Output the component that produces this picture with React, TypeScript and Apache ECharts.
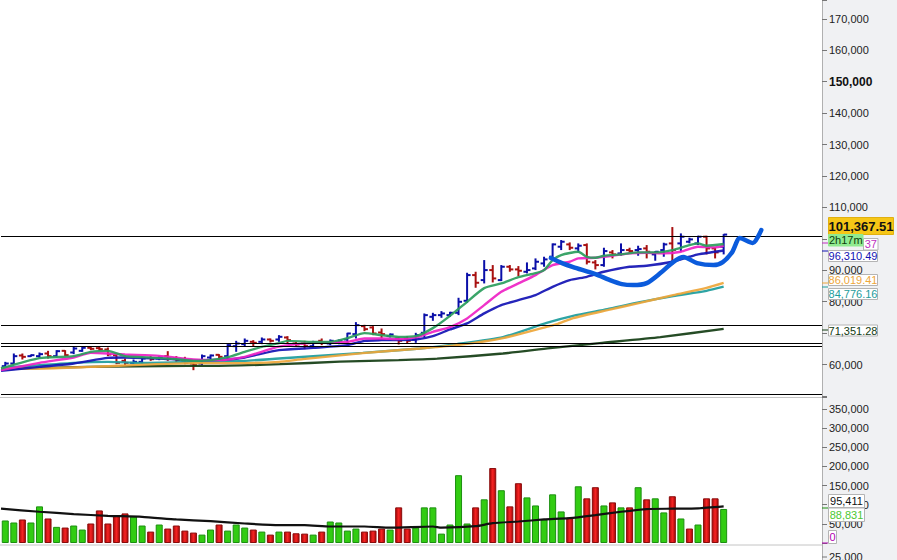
import { useEffect, useRef } from 'react';
import * as echarts from 'echarts';

const FONT = '"Liberation Sans", Arial, sans-serif';

// open, high, low, close read bar by bar
const ohlc = [
  [59490, 60870, 59278, 60339], [60339, 63524, 60127, 62675], [62887, 63524, 61613, 62462], [62675, 63205, 62462, 62993],
  [62675, 63842, 62144, 63312], [63524, 64373, 61932, 62675], [62675, 64586, 62250, 64267], [64373, 64586, 62675, 62993],
  [63842, 65860, 63312, 65116], [64373, 65860, 64055, 65329], [65329, 65647, 64586, 65010], [65223, 65647, 64373, 64904],
  [64798, 65434, 62675, 63205], [62993, 63524, 60127, 60551], [61188, 61932, 59808, 60551], [60551, 61613, 60127, 60870],
  [60870, 62462, 60339, 61932], [62144, 62675, 61188, 61719], [61932, 62781, 61401, 62250], [62675, 64267, 61188, 61932],
  [62038, 62675, 60870, 61401], [61188, 62462, 60127, 60551], [60339, 60870, 58216, 59808], [60339, 63205, 59808, 62675],
  [62250, 63205, 61613, 62887], [63099, 63312, 61613, 62462], [62675, 66496, 61613, 66178], [65860, 67558, 64055, 66709],
  [66496, 68301, 65647, 67558], [67240, 67770, 65860, 66921], [67240, 68620, 66496, 67983], [67983, 68301, 67027, 67558],
  [67983, 69363, 67240, 68832], [68619, 69044, 66708, 67770], [66708, 67239, 65646, 66390], [66708, 67558, 64904, 65859],
  [65859, 67558, 65434, 67027], [67558, 68301, 66177, 66921], [66708, 67982, 66177, 67558], [66921, 67982, 66496, 67558],
  [67982, 70106, 66921, 69893], [69681, 73502, 68301, 72547], [72229, 72653, 70636, 71273], [71804, 72229, 69363, 69893],
  [70212, 71485, 68301, 69681], [69044, 69893, 68619, 69575], [68301, 68832, 66390, 67558], [68301, 69044, 66708, 67558],
  [67982, 70106, 66921, 69363], [70106, 76263, 68619, 75732], [75201, 76475, 73927, 75732], [75732, 77006, 74883, 76263],
  [75732, 76794, 75201, 76475], [76475, 81252, 75732, 79978], [80297, 89214, 79660, 88471], [88471, 89532, 84437, 86029],
  [86879, 93248, 85817, 90063], [90063, 91656, 86135, 87409], [86879, 91656, 86560, 91125], [91125, 91656, 89532, 90276],
  [90276, 91337, 88152, 89851], [89532, 92505, 89002, 90063], [90594, 93779, 90063, 92717], [92187, 94310, 91125, 93460],
  [94309, 98555, 93778, 98237], [97494, 99617, 96432, 99086], [98237, 98874, 96432, 97175], [96963, 98555, 95689, 97812],
  [98025, 98555, 91867, 92717], [92504, 93247, 90275, 91655], [91655, 97175, 91124, 96114], [95689, 96432, 93778, 95052],
  [95371, 98555, 94628, 96432], [96432, 97175, 95371, 96114], [96432, 97812, 94628, 96751], [96963, 98025, 93778, 95901],
  [95052, 96114, 93035, 95901], [96432, 98768, 94309, 98237], [98555, 103757, 91867, 96432], [98555, 101740, 95901, 100679],
  [99086, 100360, 98555, 99829], [98555, 100997, 98025, 100679], [100679, 100997, 95052, 96963], [96963, 97281, 93778, 95689],
  [97494, 101500, 95052, 101367],
];

const volume = [
  58760, 53500, 61400, 53500, 95600, 64000, 42100, 40300, 45600, 35100, 50900, 85000, 50900, 71000, 77200, 69300, 45600,
  29800, 48200, 37700, 45600, 32400, 27200, 21900, 35100, 48200, 32400, 48200, 40300, 35100, 29800, 21900, 29800, 29800,
  25400, 24500, 21900, 29800, 56100, 53500, 32400, 37700, 29800, 32400, 37700, 35100, 93000, 37700, 40300, 93000, 93000,
  24500, 48200, 177000, 50900, 93000, 114000, 195600, 137700, 95600, 156000, 119000, 98000, 61400, 127000, 82400, 66600,
  148000, 116600, 145600, 98000, 106000, 93000, 93000, 145600, 114000, 116600, 79800, 122000, 64000, 37700, 48200,
  116600, 116600, 88831,
];
// U green, R red, ten bars per chunk
const volumeSide = [
  'UURUURURUU', 'RRRRRUURUR', 'RRRUURUUUR', 'URURRRURUU', 'UURRRURRUU',
  'UUUUURURUR', 'RUUUUURURR', 'URURURUURU', 'RURRU',
].join('');

const volAvgIdx = [-0.5, 4, 8, 12, 16, 20, 24, 28, 32, 35, 38, 42, 45, 50, 51, 55, 57, 60, 63, 66, 69, 72, 75, 78, 81, 84];
const volAvg = [89500, 81600, 75400, 71000, 68400, 61400, 57000, 50900, 46500, 46500, 43000, 43000, 40300, 43000, 40300, 43800, 51700, 56100, 61400, 64900, 72800, 81600, 88600, 89500, 90300, 95411];

const greenIdx = [-0.5, 4, 8, 10, 12, 14, 16, 18, 20, 22, 24, 26, 28, 30, 32, 33, 36, 38, 40, 42, 44, 46, 48, 50, 52, 54, 56, 58, 60, 62, 63, 64, 65, 67, 68, 69, 70, 72, 74, 76, 78, 80, 81, 82, 84];
const greenLine = [58757, 62038, 62674, 64044, 64362, 62674, 62356, 62038, 61719, 61178, 61401, 62356, 64044, 65636, 66815, 67547, 67229, 67229, 68407, 69999, 69362, 68821, 69044, 71592, 75509, 79967, 84330, 85827, 87834, 89107, 90063, 93248, 94840, 95891, 94298, 93980, 94617, 95063, 95700, 95700, 96432, 98025, 98566, 97802, 98343];

const pinkIdx = [-0.5, 4, 8, 10, 12, 14, 18, 22, 25, 28, 32, 36, 40, 42, 44, 46, 48, 50, 52, 54, 56, 58, 60, 62, 64, 66, 67, 69, 71, 73, 75, 77, 79, 81, 83, 84];
const pinkLine = [58216, 60541, 62260, 63725, 63534, 63216, 62770, 61624, 61401, 62452, 65700, 66910, 67229, 68311, 68311, 68088, 68630, 70413, 71910, 74681, 78916, 83152, 85827, 88472, 91655, 92706, 93788, 93980, 94617, 95381, 95572, 95381, 95891, 97483, 97292, 97802];

const blueIdx = [-0.5, 4, 8, 12, 14, 18, 22, 26, 28, 32, 36, 40, 42, 44, 48, 50, 52, 54, 56, 58, 60, 62, 64, 66, 68, 70, 73, 75, 78, 80, 81, 84];
const blueLine = [57993, 59267, 60350, 62133, 62260, 61942, 61401, 61624, 62260, 64585, 65318, 66178, 67547, 67770, 67993, 69044, 71178, 73088, 76273, 78916, 80509, 82101, 84745, 86878, 87929, 89522, 91114, 91432, 92706, 94298, 95063, 96310];

const tealIdx = [-0.5, 4, 8, 12, 16, 22, 28, 32, 41.8, 48.5, 52.8, 58.2, 63.3, 66.4, 70.4, 74.2, 78.1, 82, 84];
const tealLine = [58948, 59808, 60541, 60859, 60541, 60859, 61178, 61942, 63725, 65127, 66496, 68725, 73280, 75509, 77643, 79872, 81783, 83470, 84776];

const orangeIdx = [-0.5, 4, 10, 22, 28, 32, 34.8, 41.8, 48.5, 52.8, 58.2, 63.3, 64.5, 66.4, 70.4, 74.2, 78.1, 82, 84];
const orangeLine = [58757, 58757, 59267, 60445, 60445, 60859, 61719, 63630, 65127, 66178, 68407, 72006, 72866, 74776, 77324, 79649, 82101, 84426, 86019];

const darkIdx = [-0.5, 9.6, 21.3, 24, 32.1, 39.1, 46, 50.5, 58.2, 63.7, 69.5, 76.6, 84];
const darkLine = [58534, 59267, 59585, 59585, 60127, 60923, 61401, 61878, 63534, 65222, 66815, 68725, 71351];

// the hand drawn projection on top of the bars
const projIdx = [63.8, 65.1, 66.4, 69, 70.7, 72.1, 73.4, 75, 76.6, 78.1, 79.3, 80.9, 82.8, 83.9, 85, 85.9, 87.4, 88.4];
const projLine = [93885, 92293, 91020, 88790, 86880, 85605, 85285, 85925, 89110, 92610, 94200, 92290, 91655, 92610, 95795, 100255, 98665, 102800];

const levels = [100890, 72548, 66814, 65859, 50573];

const BAR_SLOTS = 96;
const categories = Array.from({ length: BAR_SLOTS }, (_, i) => String(i));

const pairs = (xs: number[], ys: number[]) => xs.map((x, i) => [x, ys[i]]);
const fmt = (v: number) => v.toLocaleString('en-US');

function ma(name: string, xs: number[], ys: number[], color: string, width = 2.4, extra: any = {}) {
  return {
    name,
    type: 'line',
    xAxisIndex: 1,
    yAxisIndex: 0,
    data: pairs(xs, ys),
    showSymbol: false,
    symbol: 'none',
    smooth: 0.2,
    silent: true,
    z: 4,
    lineStyle: { color, width, opacity: 0.92 },
    ...extra,
  };
}

function tag(x: number, y: number, w: number, h: number, text: string, color: string, fill = '#fff', font = `11px ${FONT}`, stroke = '#b4b4b4') {
  return {
    type: 'group',
    z: 100,
    children: [
      { type: 'rect', z: 100, shape: { x, y, width: w, height: h }, style: { fill, stroke, lineWidth: 1 } },
      {
        type: 'text',
        z: 101,
        style: { x: x + w / 2, y: y + h / 2, text, fill: color, font, textAlign: 'center', textVerticalAlign: 'middle' },
      },
    ],
  };
}

function tick(y: number, color: string) {
  return { type: 'line', z: 99, shape: { x1: 822, y1: y, x2: 828, y2: y }, style: { stroke: color, lineWidth: 1 } };
}

function App() {
  const ref = useRef<HTMLDivElement>(null);

  useEffect(() => {
    document.body.style.margin = '0';
    if (!ref.current) return;
    const chart = echarts.init(ref.current, undefined, { renderer: 'svg' });

    const redFill = new echarts.graphic.LinearGradient(0, 0, 1, 0, [
      { offset: 0, color: '#a80808' },
      { offset: 0.5, color: '#f72424' },
      { offset: 1, color: '#a80808' },
    ]);

    const option: any = {
      animation: false,
      grid: [
        { left: 1, top: 0, width: 821, height: 396 },
        { left: 1, top: 397, width: 821, height: 146 },
      ],
      xAxis: [
        { type: 'category', gridIndex: 0, data: categories, show: false },
        { type: 'value', gridIndex: 0, min: -0.5, max: BAR_SLOTS - 0.5, show: false },
        { type: 'category', gridIndex: 1, data: categories, show: false },
        { type: 'value', gridIndex: 1, min: -0.5, max: BAR_SLOTS - 0.5, show: false },
      ],
      yAxis: [
        {
          type: 'value',
          gridIndex: 0,
          position: 'right',
          min: 50000,
          max: 176000,
          interval: 10000,
          splitLine: { show: false },
          axisLine: { show: false, onZero: false },
          axisTick: { length: 5, lineStyle: { color: '#777' } },
          axisLabel: {
            margin: 7,
            color: '#222',
            fontSize: 11,
            fontFamily: FONT,
            formatter: (v: number) => {
              if (v % 10000 !== 0 || v === 50000 || v === 100000 || v === 70000) return '';
              return v === 150000 ? `{b|${fmt(v)}}` : fmt(v);
            },
            rich: { b: { fontSize: 12, fontWeight: 'bold', color: '#111', fontFamily: FONT } },
          },
        },
        {
          type: 'value',
          gridIndex: 1,
          position: 'right',
          min: 0,
          max: 381000,
          interval: 50000,
          splitLine: { show: false },
          axisLine: { show: false, onZero: false },
          axisTick: { length: 5, lineStyle: { color: '#777' } },
          axisLabel: {
            margin: 7,
            color: '#222',
            fontSize: 11,
            fontFamily: FONT,
            formatter: (v: number) => (v % 50000 !== 0 || v === 0 ? '' : fmt(v)),
          },
        },
      ],
      series: [
        {
          name: 'price',
          type: 'custom',
          xAxisIndex: 0,
          yAxisIndex: 0,
          z: 3,
          silent: true,
          data: ohlc.map((b, i) => [i, ...b]),
          encode: { x: 0, y: [1, 2, 3, 4] },
          renderItem: (_: any, api: any) => {
            const i = api.value(0);
            const [x, openY] = api.coord([i, api.value(1)]);
            const highY = api.coord([i, api.value(2)])[1];
            const lowY = api.coord([i, api.value(3)])[1];
            const closeY = api.coord([i, api.value(4)])[1];
            const stroke = api.value(4) >= api.value(1) ? '#0a0fa8' : '#a81010';
            const style = { stroke, lineWidth: 2, fill: 'none' };
            return {
              type: 'group',
              children: [
                { type: 'line', shape: { x1: x, y1: highY, x2: x, y2: lowY }, style },
                { type: 'line', shape: { x1: x - 3.5, y1: openY, x2: x, y2: openY }, style },
                { type: 'line', shape: { x1: x, y1: closeY, x2: x + 3.5, y2: closeY }, style },
              ],
            };
          },
        },
        ma('ma200', darkIdx, darkLine, '#123c12', 2.4, {
          markLine: {
            silent: true,
            symbol: 'none',
            animation: false,
            label: { show: false },
            lineStyle: { color: '#000', width: 1, type: 'solid', opacity: 1 },
            data: levels.map((v) => ({ yAxis: v })),
          },
        }),
        ma('ma100', tealIdx, tealLine, '#1c9c9c'),
        ma('ma50', orangeIdx, orangeLine, '#eea63a'),
        ma('ma20', blueIdx, blueLine, '#1212b4'),
        ma('ma10', pinkIdx, pinkLine, '#ee22c4'),
        ma('ma5', greenIdx, greenLine, '#2a9d5c'),
        ma('projection', projIdx, projLine, '#0b5bdc', 4.5, {
          z: 6,
          smooth: 0.25,
          lineStyle: { color: '#0b5bdc', width: 4.5, cap: 'round', join: 'round' },
        }),
        {
          name: 'volume',
          type: 'bar',
          xAxisIndex: 2,
          yAxisIndex: 1,
          barWidth: 7,
          silent: true,
          data: volume.map((value, i) => ({
            value,
            itemStyle:
              volumeSide[i] === 'R'
                ? { color: redFill, borderColor: '#8a0c0c', borderWidth: 1 }
                : { color: '#32cc12', borderColor: '#1c8f10', borderWidth: 1 },
          })),
        },
        ma('volume avg', volAvgIdx, volAvg, '#111', 2.2, {
          xAxisIndex: 3,
          yAxisIndex: 1,
          lineStyle: { color: '#111', width: 2.2 },
        }),
      ],
      graphic: {
        z: 100,
        elements: [
          { type: 'line', z: 98, shape: { x1: 0, y1: 397.5, x2: 822, y2: 397.5 }, style: { stroke: '#c4c4c4', lineWidth: 1 } },
          { type: 'line', z: 98, shape: { x1: 0, y1: 545, x2: 822, y2: 545 }, style: { stroke: '#c4c4c4', lineWidth: 1 } },
          { type: 'line', z: 98, shape: { x1: 822, y1: 557, x2: 827, y2: 557 }, style: { stroke: '#777', lineWidth: 1 } },
          {
            type: 'text',
            z: 98,
            style: { x: 829, y: 557, text: '25,000', fill: '#222', font: `11px ${FONT}`, textVerticalAlign: 'middle' },
          },
          tick(243, '#c030c0'),
          tick(251, '#1212b4'),
          tick(283, '#eea63a'),
          tick(287, '#1c9c9c'),
          tick(330, '#123c12'),
          tick(508, '#1c8f10'),
          tick(543, '#b000b0'),
          tag(863.5, 238.5, 14.5, 11.5, '37', '#c030c0'),
          tag(828.5, 217.5, 65, 17, '101,367.51', '#111', '#f6c616', `bold 13px ${FONT}`, '#e0b010'),
          tag(828.5, 234.5, 34.5, 11.5, '2h17m', '#0c3c0c', '#90ea90', `11px ${FONT}`, '#90ea90'),
          tag(828.5, 250.5, 49, 11, '96,310.49', '#1212b4'),
          tag(828.5, 274.5, 49, 11, '86,019.41', '#eea63a'),
          tag(828.5, 288.5, 49, 11, '84,776.16', '#1c9c9c'),
          tag(828.5, 325, 49, 11, '71,351.28', '#123c12'),
          tag(828.5, 494.5, 36, 13, '95,411', '#111'),
          tag(828.5, 508, 36, 13.5, '88,831', '#4cc832'),
          tag(828.5, 530.5, 8, 13, '0', '#b000b0'),
        ],
      },
    };

    chart.setOption(option);
    return () => {
      chart.dispose();
    };
  }, []);

  return (
    <div style={{ position: 'relative', width: 897, height: 560, background: '#fff', overflow: 'hidden' }}>
      <div
        style={{
          position: 'absolute',
          left: 822,
          top: 0,
          width: 75,
          height: 560,
          background: '#f0f1f3',
          borderLeft: '1px solid #b0b0b0',
          boxSizing: 'border-box',
        }}
      />
      <div ref={ref} style={{ position: 'absolute', left: 0, top: 0, width: 897, height: 560 }} />
    </div>
  );
}

export default App;
